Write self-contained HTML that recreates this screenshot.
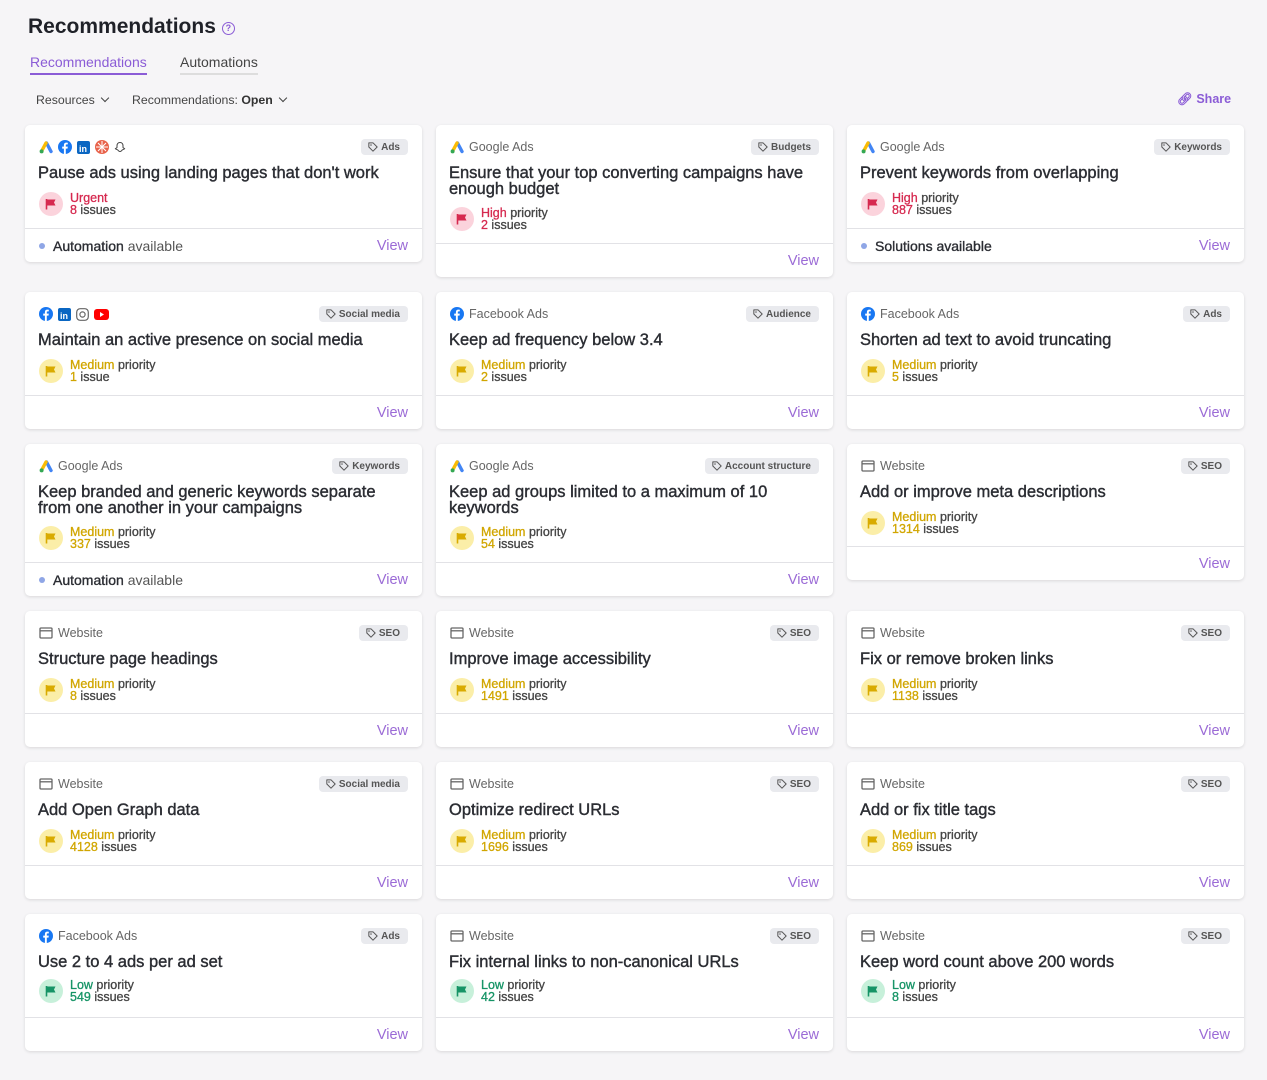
<!DOCTYPE html>
<html><head><meta charset="utf-8">
<style>
*{box-sizing:border-box;margin:0;padding:0}
body{width:1267px;height:1080px;background:#f6f5f7;font-family:"Liberation Sans",sans-serif;color:#2b2d33;position:relative;overflow:hidden}
.h1{position:absolute;left:28px;top:15px;font-size:21px;font-weight:bold;color:#1f2128}
.q{display:inline-block;width:13px;height:13px;border:1.5px solid #8b5cd6;border-radius:50%;font-size:9px;color:#8b5cd6;text-align:center;line-height:10px;vertical-align:2px;margin-left:6px}
.tab{position:absolute;top:54px;font-size:14px;padding-bottom:3px}
.flt{position:absolute;top:93px;font-size:12.3px;color:#444}
.chev{display:inline-block;width:6px;height:6px;border-right:1.5px solid #444;border-bottom:1.5px solid #444;transform:rotate(45deg);margin-left:7px;vertical-align:3px}
.c{position:absolute;width:397px;background:#fff;border-radius:5px;box-shadow:0 1px 3px rgba(0,0,0,.12)}
.hd{position:absolute;left:14px;right:14px;top:13px;height:18px;display:flex;align-items:center;font-size:12.5px;color:#666}
.hd svg{margin-right:5px}
.tag{margin-left:auto;background:#e9eaee;border-radius:4px;height:16px;padding:0 8px 0 7px;font-size:10px;font-weight:bold;color:#555;display:flex;align-items:center}
.tag svg{margin-right:3px}
.t{position:absolute;left:13px;right:14px;top:40px;font-size:16.5px;line-height:16px;-webkit-text-stroke:.4px #2b2d33;color:#2b2d33}
.p{position:absolute;left:14px;display:flex;align-items:center}
.fl{width:24px;height:24px;border-radius:50%;display:flex;align-items:center;justify-content:center;margin-right:7px}
.pt{font-size:12.5px;line-height:12px;color:#444;-webkit-text-stroke:.3px #444}
.ft{position:absolute;left:0;right:0;bottom:0;height:34px;border-top:1px solid #e2e2e6;font-size:14px;display:flex;align-items:center;padding:0 14px}
.v{margin-left:auto;color:#9b6bd6;font-size:14.5px}
.dot{width:6px;height:6px;border-radius:50%;background:#8fa6e6;margin-right:8px}
.r .pt b{color:#d6294f;font-weight:normal;-webkit-text-stroke:.3px #d6294f}.r .fl{background:#fbd3dc}
.m .pt b{color:#d1a600;font-weight:normal;-webkit-text-stroke:.3px #d1a600}.m .fl{background:#fbeea8}
.l .pt b{color:#169466;font-weight:normal;-webkit-text-stroke:.3px #169466}.l .fl{background:#c7f0da}
</style></head><body>
<svg width="0" height="0" style="position:absolute"><defs>
<symbol id="g" viewBox="0 0 14 13"><line x1="7.5" y1="2" x2="12" y2="10.5" stroke="#4285f4" stroke-width="3.4" stroke-linecap="round"/><line x1="7" y1="2" x2="3.5" y2="8.5" stroke="#fbbc04" stroke-width="3.4" stroke-linecap="round"/><circle cx="2.6" cy="10.4" r="2" fill="#34a853"/></symbol>
<symbol id="f" viewBox="0 0 14 14"><circle cx="7" cy="7" r="7" fill="#1877f2"/><path d="M7.8 14V8.6h1.7l.3-2H7.8V5.4c0-.6.2-1 1-1h1V2.7c-.2 0-.8-.1-1.5-.1-1.5 0-2.4.9-2.4 2.5v1.5H4.2v2h1.7V14z" fill="#fff"/></symbol>
<symbol id="w" viewBox="0 0 14 12"><rect x="1" y="1" width="12" height="10" rx="1" fill="none" stroke="#666" stroke-width="1.3"/><line x1="1" y1="3.8" x2="13" y2="3.8" stroke="#666" stroke-width="1.3"/></symbol>
<symbol id="tg" viewBox="0 0 12 12"><path d="M1 1h5l5 5-5 5-5-5z" fill="none" stroke="#555" stroke-width="1.2" stroke-linejoin="round"/><circle cx="3.6" cy="3.6" r=".9" fill="#555"/></symbol>
<symbol id="fg" viewBox="0 0 12 12"><path d="M1.5 1v10.5" stroke="currentColor" stroke-width="1.6"/><path d="M1.5 1.5h9l-1.5 3 1.5 3h-9z" fill="currentColor"/></symbol>
</defs></svg>

<div class="h1">Recommendations<span class="q">?</span></div>
<div class="tab" style="left:30px;color:#8b5cd6;border-bottom:2px solid #8b5cd6">Recommendations</div>
<div class="tab" style="left:180px;color:#444;border-bottom:2px solid #ddd">Automations</div>
<div class="flt" style="left:36px">Resources<span class="chev"></span></div>
<div class="flt" style="left:132px">Recommendations: <b style="color:#333">Open</b><span class="chev"></span></div>
<div style="position:absolute;left:1177px;top:92px;font-size:12.5px;font-weight:bold;color:#8b5cd6">&#128279;&#xFE0E; Share</div>

<!-- Row 1 -->
<div class="c r" style="left:25px;top:125px;height:137px">
<div class="hd"><svg width="14" height="13"><use href="#g"/></svg><svg width="14" height="14"><use href="#f"/></svg><svg width="13" height="13"><rect width="13" height="13" rx="2" fill="#0a66c2"/><text x="2" y="11" font-size="9" font-weight="bold" fill="#fff" font-family="Liberation Sans">in</text></svg><svg width="14" height="14"><circle cx="7" cy="7" r="7" fill="#e8624a"/><path d="M7 1v12M1 7h12M3 3l8 8M11 3l-8 8" stroke="#fff" stroke-width="1"/></svg><svg width="12" height="13"><path d="M6 1.5c-2 0-3 1.5-3 3.3v1.7l-1.6 1.2c.6.7 1.8.7 2.4 1.3.6.9 1.4 1.5 2.2 1.5s1.6-.6 2.2-1.5c.6-.6 1.8-.6 2.4-1.3L9 6.5V4.8C9 3 8 1.5 6 1.5z" fill="none" stroke="#444" stroke-width="1"/></svg><span class="tag"><svg width="10" height="10"><use href="#tg"/></svg>Ads</span></div>
<div class="t">Pause ads using landing pages that don't work</div>
<div class="p" style="top:67px"><div class="fl" style="color:#d6294f"><svg width="12" height="12"><use href="#fg"/></svg></div><div class="pt"><b>Urgent</b><br><b>8</b> issues</div></div>
<div class="ft"><span class="dot"></span><span><b style="font-weight:normal;-webkit-text-stroke:.35px #2b2d33">Automation</b> <span style="color:#555">available</span></span><span class="v">View</span></div>
</div>

<div class="c r" style="left:436px;top:125px;height:152px">
<div class="hd"><svg width="14" height="13"><use href="#g"/></svg>Google Ads<span class="tag"><svg width="10" height="10"><use href="#tg"/></svg>Budgets</span></div>
<div class="t">Ensure that your top converting campaigns have enough budget</div>
<div class="p" style="top:82px"><div class="fl" style="color:#d6294f"><svg width="12" height="12"><use href="#fg"/></svg></div><div class="pt"><b>High</b> priority<br><b>2</b> issues</div></div>
<div class="ft"><span class="v">View</span></div>
</div>

<div class="c r" style="left:847px;top:125px;height:137px">
<div class="hd"><svg width="14" height="13"><use href="#g"/></svg>Google Ads<span class="tag"><svg width="10" height="10"><use href="#tg"/></svg>Keywords</span></div>
<div class="t">Prevent keywords from overlapping</div>
<div class="p" style="top:67px"><div class="fl" style="color:#d6294f"><svg width="12" height="12"><use href="#fg"/></svg></div><div class="pt"><b>High</b> priority<br><b>887</b> issues</div></div>
<div class="ft"><span class="dot"></span><span style="-webkit-text-stroke:.35px #2b2d33">Solutions available</span><span class="v">View</span></div>
</div>

<!-- Row 2 -->
<div class="c m" style="left:25px;top:292px;height:137px">
<div class="hd"><svg width="14" height="14"><use href="#f"/></svg><svg width="13" height="13"><rect width="13" height="13" rx="2" fill="#0a66c2"/><text x="2" y="11" font-size="9" font-weight="bold" fill="#fff" font-family="Liberation Sans">in</text></svg><svg width="13" height="13"><rect x=".7" y=".7" width="11.6" height="11.6" rx="3.5" fill="none" stroke="#666" stroke-width="1.2"/><circle cx="6.5" cy="6.5" r="2.6" fill="none" stroke="#666" stroke-width="1.2"/></svg><svg width="15" height="11"><rect width="15" height="11" rx="3" fill="#f00"/><path d="M6 3l4 2.5L6 8z" fill="#fff"/></svg><span class="tag"><svg width="10" height="10"><use href="#tg"/></svg>Social media</span></div>
<div class="t">Maintain an active presence on social media</div>
<div class="p" style="top:67px"><div class="fl" style="color:#d9ab00"><svg width="12" height="12"><use href="#fg"/></svg></div><div class="pt"><b>Medium</b> priority<br><b>1</b> issue</div></div>
<div class="ft"><span class="v">View</span></div>
</div>

<div class="c m" style="left:436px;top:292px;height:137px">
<div class="hd"><svg width="14" height="14"><use href="#f"/></svg>Facebook Ads<span class="tag"><svg width="10" height="10"><use href="#tg"/></svg>Audience</span></div>
<div class="t">Keep ad frequency below 3.4</div>
<div class="p" style="top:67px"><div class="fl" style="color:#d9ab00"><svg width="12" height="12"><use href="#fg"/></svg></div><div class="pt"><b>Medium</b> priority<br><b>2</b> issues</div></div>
<div class="ft"><span class="v">View</span></div>
</div>

<div class="c m" style="left:847px;top:292px;height:137px">
<div class="hd"><svg width="14" height="14"><use href="#f"/></svg>Facebook Ads<span class="tag"><svg width="10" height="10"><use href="#tg"/></svg>Ads</span></div>
<div class="t">Shorten ad text to avoid truncating</div>
<div class="p" style="top:67px"><div class="fl" style="color:#d9ab00"><svg width="12" height="12"><use href="#fg"/></svg></div><div class="pt"><b>Medium</b> priority<br><b>5</b> issues</div></div>
<div class="ft"><span class="v">View</span></div>
</div>

<!-- Row 3 -->
<div class="c m" style="left:25px;top:444px;height:152px">
<div class="hd"><svg width="14" height="13"><use href="#g"/></svg>Google Ads<span class="tag"><svg width="10" height="10"><use href="#tg"/></svg>Keywords</span></div>
<div class="t">Keep branded and generic keywords separate<br>from one another in your campaigns</div>
<div class="p" style="top:82px"><div class="fl" style="color:#d9ab00"><svg width="12" height="12"><use href="#fg"/></svg></div><div class="pt"><b>Medium</b> priority<br><b>337</b> issues</div></div>
<div class="ft"><span class="dot"></span><span><b style="font-weight:normal;-webkit-text-stroke:.35px #2b2d33">Automation</b> <span style="color:#555">available</span></span><span class="v">View</span></div>
</div>

<div class="c m" style="left:436px;top:444px;height:152px">
<div class="hd"><svg width="14" height="13"><use href="#g"/></svg>Google Ads<span class="tag"><svg width="10" height="10"><use href="#tg"/></svg>Account structure</span></div>
<div class="t">Keep ad groups limited to a maximum of 10<br>keywords</div>
<div class="p" style="top:82px"><div class="fl" style="color:#d9ab00"><svg width="12" height="12"><use href="#fg"/></svg></div><div class="pt"><b>Medium</b> priority<br><b>54</b> issues</div></div>
<div class="ft"><span class="v">View</span></div>
</div>

<div class="c m" style="left:847px;top:444px;height:136px">
<div class="hd"><svg width="14" height="12"><use href="#w"/></svg>Website<span class="tag"><svg width="10" height="10"><use href="#tg"/></svg>SEO</span></div>
<div class="t">Add or improve meta descriptions</div>
<div class="p" style="top:67px"><div class="fl" style="color:#d9ab00"><svg width="12" height="12"><use href="#fg"/></svg></div><div class="pt"><b>Medium</b> priority<br><b>1314</b> issues</div></div>
<div class="ft"><span class="v">View</span></div>
</div>

<!-- Row 4 -->
<div class="c m" style="left:25px;top:611px;height:136px">
<div class="hd"><svg width="14" height="12"><use href="#w"/></svg>Website<span class="tag"><svg width="10" height="10"><use href="#tg"/></svg>SEO</span></div>
<div class="t">Structure page headings</div>
<div class="p" style="top:67px"><div class="fl" style="color:#d9ab00"><svg width="12" height="12"><use href="#fg"/></svg></div><div class="pt"><b>Medium</b> priority<br><b>8</b> issues</div></div>
<div class="ft"><span class="v">View</span></div>
</div>

<div class="c m" style="left:436px;top:611px;height:136px">
<div class="hd"><svg width="14" height="12"><use href="#w"/></svg>Website<span class="tag"><svg width="10" height="10"><use href="#tg"/></svg>SEO</span></div>
<div class="t">Improve image accessibility</div>
<div class="p" style="top:67px"><div class="fl" style="color:#d9ab00"><svg width="12" height="12"><use href="#fg"/></svg></div><div class="pt"><b>Medium</b> priority<br><b>1491</b> issues</div></div>
<div class="ft"><span class="v">View</span></div>
</div>

<div class="c m" style="left:847px;top:611px;height:136px">
<div class="hd"><svg width="14" height="12"><use href="#w"/></svg>Website<span class="tag"><svg width="10" height="10"><use href="#tg"/></svg>SEO</span></div>
<div class="t">Fix or remove broken links</div>
<div class="p" style="top:67px"><div class="fl" style="color:#d9ab00"><svg width="12" height="12"><use href="#fg"/></svg></div><div class="pt"><b>Medium</b> priority<br><b>1138</b> issues</div></div>
<div class="ft"><span class="v">View</span></div>
</div>

<!-- Row 5 -->
<div class="c m" style="left:25px;top:762px;height:137px">
<div class="hd"><svg width="14" height="12"><use href="#w"/></svg>Website<span class="tag"><svg width="10" height="10"><use href="#tg"/></svg>Social media</span></div>
<div class="t">Add Open Graph data</div>
<div class="p" style="top:67px"><div class="fl" style="color:#d9ab00"><svg width="12" height="12"><use href="#fg"/></svg></div><div class="pt"><b>Medium</b> priority<br><b>4128</b> issues</div></div>
<div class="ft"><span class="v">View</span></div>
</div>

<div class="c m" style="left:436px;top:762px;height:137px">
<div class="hd"><svg width="14" height="12"><use href="#w"/></svg>Website<span class="tag"><svg width="10" height="10"><use href="#tg"/></svg>SEO</span></div>
<div class="t">Optimize redirect URLs</div>
<div class="p" style="top:67px"><div class="fl" style="color:#d9ab00"><svg width="12" height="12"><use href="#fg"/></svg></div><div class="pt"><b>Medium</b> priority<br><b>1696</b> issues</div></div>
<div class="ft"><span class="v">View</span></div>
</div>

<div class="c m" style="left:847px;top:762px;height:137px">
<div class="hd"><svg width="14" height="12"><use href="#w"/></svg>Website<span class="tag"><svg width="10" height="10"><use href="#tg"/></svg>SEO</span></div>
<div class="t">Add or fix title tags</div>
<div class="p" style="top:67px"><div class="fl" style="color:#d9ab00"><svg width="12" height="12"><use href="#fg"/></svg></div><div class="pt"><b>Medium</b> priority<br><b>869</b> issues</div></div>
<div class="ft"><span class="v">View</span></div>
</div>

<!-- Row 6 -->
<div class="c l" style="left:25px;top:914px;height:137px">
<div class="hd"><svg width="14" height="14"><use href="#f"/></svg>Facebook Ads<span class="tag"><svg width="10" height="10"><use href="#tg"/></svg>Ads</span></div>
<div class="t">Use 2 to 4 ads per ad set</div>
<div class="p" style="top:65px"><div class="fl" style="color:#169466"><svg width="12" height="12"><use href="#fg"/></svg></div><div class="pt"><b>Low</b> priority<br><b>549</b> issues</div></div>
<div class="ft"><span class="v">View</span></div>
</div>

<div class="c l" style="left:436px;top:914px;height:137px">
<div class="hd"><svg width="14" height="12"><use href="#w"/></svg>Website<span class="tag"><svg width="10" height="10"><use href="#tg"/></svg>SEO</span></div>
<div class="t">Fix internal links to non-canonical URLs</div>
<div class="p" style="top:65px"><div class="fl" style="color:#169466"><svg width="12" height="12"><use href="#fg"/></svg></div><div class="pt"><b>Low</b> priority<br><b>42</b> issues</div></div>
<div class="ft"><span class="v">View</span></div>
</div>

<div class="c l" style="left:847px;top:914px;height:137px">
<div class="hd"><svg width="14" height="12"><use href="#w"/></svg>Website<span class="tag"><svg width="10" height="10"><use href="#tg"/></svg>SEO</span></div>
<div class="t">Keep word count above 200 words</div>
<div class="p" style="top:65px"><div class="fl" style="color:#169466"><svg width="12" height="12"><use href="#fg"/></svg></div><div class="pt"><b>Low</b> priority<br><b>8</b> issues</div></div>
<div class="ft"><span class="v">View</span></div>
</div>

</body></html>
